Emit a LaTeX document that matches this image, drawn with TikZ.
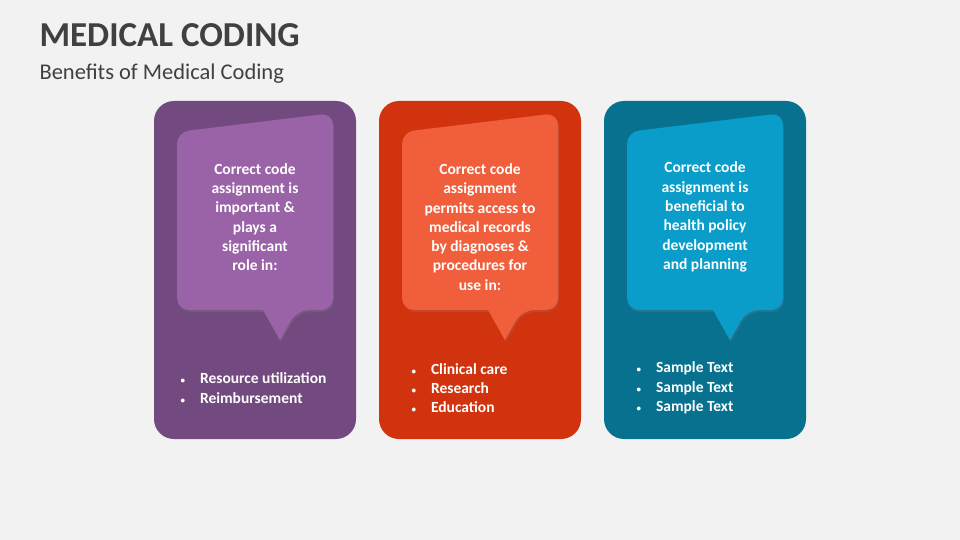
\documentclass[tikz,border=0pt]{standalone}
\usepackage{fontspec}
\setmainfont{Carlito}
\usetikzlibrary{shadows}
\definecolor{bgcol}{HTML}{F2F2F2}
\definecolor{titlecol}{HTML}{404040}
\definecolor{purpcard}{HTML}{734A7F}
\definecolor{purpbub}{HTML}{9A63A8}
\definecolor{redcard}{HTML}{D2330F}
\definecolor{redbub}{HTML}{F15E3C}
\definecolor{tealcard}{HTML}{08718F}
\definecolor{tealbub}{HTML}{0A9DCA}
\tikzset{card style/.style={rounded corners=20pt},
  bubble style/.style={rounded corners=12pt, drop shadow={shadow xshift=1pt,shadow yshift=-2pt,opacity=0.25}},
  bubble text/.style={text=white, font=\fontsize{15.5}{19.3}\selectfont\bfseries, align=center},
  list text/.style={text=white, font=\fontsize{15.5}{19.3}\selectfont\bfseries, align=left, anchor=west}}
% one card: #1 x offset, #2 card colour, #3 bubble colour
\newcommand{\benefitcard}[3]{%
  \begin{scope}[xshift=#1pt]
   \fill[#2, card style] (154,101) rectangle (356,439);
   \fill[#3, bubble style] (263,310) -- (177,310) -- (177,132) -- (333,113) -- (333,310) -- (297,310) [sharp corners] -- (280,340) -- cycle;
  \end{scope}}
\newcommand{\bul}{{\small\textbullet}\hspace{15pt}}

\begin{document}
\begin{tikzpicture}[x=1pt,y=-1pt]
   \fill[bgcol] (0,0) rectangle (960,540);
   \node[anchor=west, text=titlecol, font=\fontsize{35}{40}\selectfont\bfseries] (title) at (36,35) {MEDICAL CODING};
   \node[anchor=west, text=titlecol, font=\fontsize{22.5}{26}\selectfont] (subtitle) at (36,74) {Benefits of Medical Coding};

   \benefitcard{0}{purpcard}{purpbub}
   \benefitcard{225}{redcard}{redbub}
   \benefitcard{450}{tealcard}{tealbub}

   \node[bubble text] (txt1) at (255,217) {Correct code\\assignment is\\important \&\\plays a\\significant\\role in:};
   \node[bubble text] (txt2) at (480,227) {Correct code\\assignment\\permits access to\\medical records\\by diagnoses \&\\procedures for\\use in:};
   \node[bubble text] (txt3) at (705,217) {Correct code\\assignment is\\beneficial to\\health policy\\development\\and planning};

   \node[list text] (list1) at (177,388) {\bul Resource utilization\\\bul Reimbursement};
   \node[list text] (list2) at (408,388) {\bul Clinical care\\\bul Research\\\bul Education};
   \node[list text] (list3) at (633,388) {\bul Sample Text\\\bul Sample Text\\\bul Sample Text};
\end{tikzpicture}
\end{document}
